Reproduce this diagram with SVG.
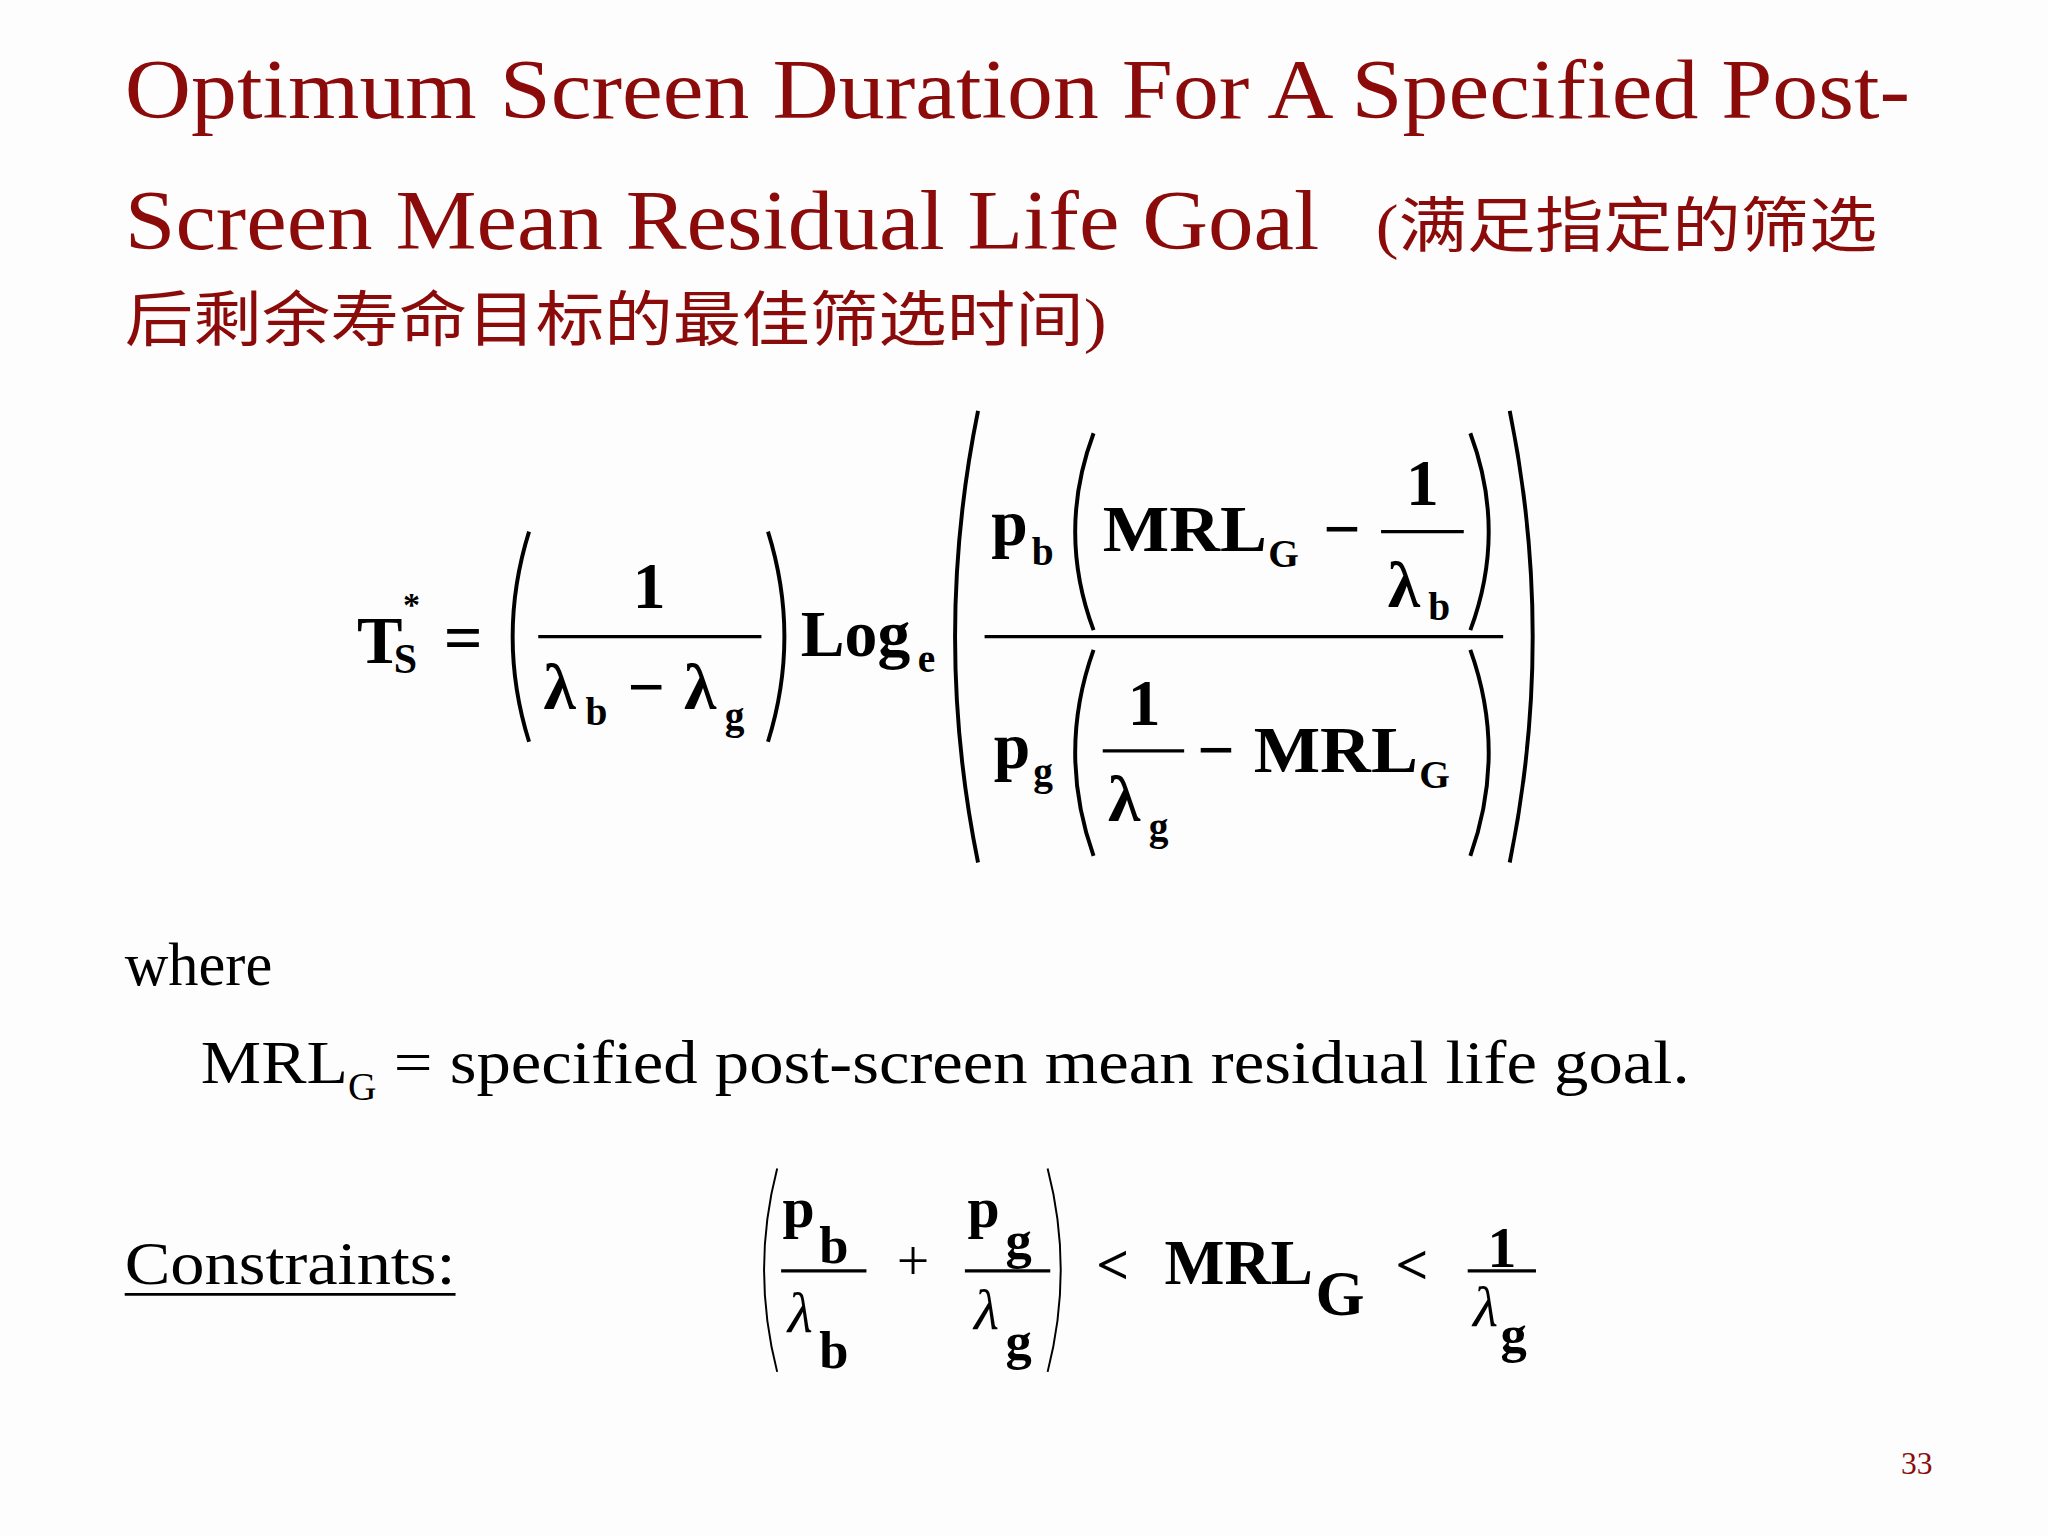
<svg xmlns="http://www.w3.org/2000/svg" width="2048" height="1536" viewBox="0 0 2048 1536">
<style>
.t{font-family:"Liberation Serif","Noto Sans CJK SC",serif;fill:#8b0a0a}
.m{font-family:"Liberation Serif",serif;fill:#000;font-weight:bold}
.r{font-family:"Liberation Serif",serif;fill:#000}
.p{fill:none;stroke:#000;stroke-width:3}
.l{stroke:#000;stroke-width:2.5}
</style>
<rect width="2048" height="1536" fill="#fdfdfd"/>
<g transform="scale(1.3128)">
<g id="title">
<text class="t" x="95" y="90" font-size="64" textLength="1360" lengthAdjust="spacingAndGlyphs">Optimum Screen Duration For A Specified Post-</text>
<text class="t" x="95" y="190" font-size="64" textLength="910" lengthAdjust="spacingAndGlyphs">Screen Mean Residual Life Goal</text>
<text class="t" x="1048" y="188" font-size="46" textLength="382" lengthAdjust="spacingAndGlyphs">(满足指定的筛选</text>
<text class="t" x="95" y="260" font-size="46" textLength="748" lengthAdjust="spacingAndGlyphs">后剩余寿命目标的最佳筛选时间)</text>
</g>
<g id="formula">
<text class="m" x="272" y="505" font-size="52">T</text>
<text class="m" x="300" y="513" font-size="32">S</text>
<text class="m" x="307" y="469" font-size="26">*</text>
<text class="m" x="338" y="503" font-size="52">=</text>
<path class="p" d="M403,405 Q378,485 403,565"/>
<text class="m" x="482" y="463" font-size="50">1</text>
<line class="l" x1="410" y1="485" x2="580" y2="485"/>
<text class="m" x="414" y="540" font-size="50">λ</text>
<text class="m" x="446" y="552" font-size="30">b</text>
<text class="m" x="478" y="540" font-size="50">−</text>
<text class="m" x="521" y="540" font-size="50">λ</text>
<text class="m" x="552" y="555" font-size="30">g</text>
<path class="p" d="M585,405 Q610,485 585,565"/>
<text class="m" x="610" y="500" font-size="50">Log</text>
<text class="m" x="699" y="512" font-size="30">e</text>
<path class="p" d="M745,313 Q710,485 745,657"/>
<path class="p" d="M1150,313 Q1185,485 1150,657"/>
<line class="l" x1="750" y1="485" x2="1145" y2="485"/>
<text class="m" x="755" y="415" font-size="50">p</text>
<text class="m" x="786" y="430" font-size="30">b</text>
<path class="p" d="M833,330 Q805,405 833,480"/>
<text class="m" x="840" y="420" font-size="50" textLength="125" lengthAdjust="spacingAndGlyphs">MRL</text>
<text class="m" x="966" y="432" font-size="30">G</text>
<text class="m" x="1008" y="420" font-size="50">−</text>
<text class="m" x="1071" y="385" font-size="50">1</text>
<line class="l" x1="1052" y1="405" x2="1115" y2="405"/>
<text class="m" x="1057" y="462" font-size="50">λ</text>
<text class="m" x="1088" y="472" font-size="30">b</text>
<path class="p" d="M1120,330 Q1148,405 1120,480"/>
<text class="m" x="757" y="585" font-size="50">p</text>
<text class="m" x="787" y="598" font-size="30">g</text>
<path class="p" d="M833,495 Q805,573 833,652"/>
<text class="m" x="859" y="552" font-size="50">1</text>
<line class="l" x1="840" y1="572" x2="902" y2="572"/>
<text class="m" x="844" y="625" font-size="50">λ</text>
<text class="m" x="875" y="640" font-size="30">g</text>
<text class="m" x="912" y="588" font-size="50">−</text>
<text class="m" x="955" y="588" font-size="50" textLength="125" lengthAdjust="spacingAndGlyphs">MRL</text>
<text class="m" x="1081" y="600" font-size="30">G</text>
<path class="p" d="M1120,495 Q1148,573 1120,652"/>
</g>
<g id="where">
<text class="r" x="95" y="750" font-size="46">where</text>
<text class="r" x="153" y="825" font-size="46" textLength="112" lengthAdjust="spacingAndGlyphs">MRL</text>
<text class="r" x="265" y="838" font-size="30">G</text>
<text class="r" x="300" y="825" font-size="46" textLength="987" lengthAdjust="spacingAndGlyphs">= specified post-screen mean residual life goal.</text>
</g>
<g id="constraints">
<text class="r" x="95" y="978" font-size="46" textLength="252" lengthAdjust="spacingAndGlyphs">Constraints:</text>
<line x1="95" y1="986" x2="347" y2="986" stroke="#000" stroke-width="2"/>
<path fill="none" stroke="#000" stroke-width="1.5" d="M592,890 Q572,967 592,1045"/>
<path fill="none" stroke="#000" stroke-width="1.5" d="M798,890 Q818,967 798,1045"/>
<text class="m" x="596" y="935" font-size="44">p</text>
<text class="m" x="624" y="962" font-size="40">b</text>
<line class="l" x1="595" y1="968" x2="660" y2="968"/>
<text class="r" x="600" y="1015" font-size="44" font-style="italic">λ</text>
<text class="m" x="624" y="1042" font-size="40">b</text>
<text class="r" x="683" y="975" font-size="44">+</text>
<text class="m" x="737" y="935" font-size="44">p</text>
<text class="m" x="766" y="958" font-size="40">g</text>
<line class="l" x1="735" y1="968" x2="800" y2="968"/>
<text class="r" x="742" y="1012" font-size="44" font-style="italic">λ</text>
<text class="m" x="766" y="1035" font-size="40">g</text>
<text class="m" x="835" y="978" font-size="44">&lt;</text>
<text class="m" x="887" y="978" font-size="48" textLength="113" lengthAdjust="spacingAndGlyphs">MRL</text>
<text class="m" x="1002" y="1002" font-size="48">G</text>
<text class="m" x="1063" y="978" font-size="44">&lt;</text>
<text class="m" x="1133" y="965" font-size="44">1</text>
<line class="l" x1="1118" y1="968" x2="1170" y2="968"/>
<text class="r" x="1122" y="1010" font-size="44" font-style="italic">λ</text>
<text class="m" x="1143" y="1030" font-size="40">g</text>
</g>
<text class="t" x="1448" y="1123" font-size="24">33</text>
</g>
</svg>
